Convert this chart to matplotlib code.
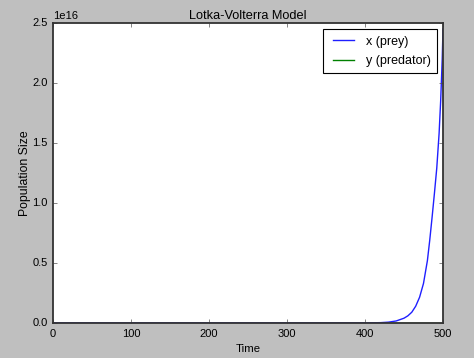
import matplotlib
matplotlib.use("Agg")
import matplotlib.pyplot as plt

plt.style.use("classic")
plt.rcParams["font.family"] = ["Liberation Sans", "DejaVu Sans"]

# Data (population in units of 1e16)
time = [0, 100, 200, 300, 400, 420, 430, 440, 450, 455, 460, 465, 470,
        475, 480, 483, 486, 489, 492, 495, 497, 499, 500]
prey = [0.0, 0.0, 0.0, 0.0, 0.0006, 0.003, 0.007, 0.017, 0.040, 0.060,
        0.090, 0.140, 0.215, 0.330, 0.520, 0.690, 0.880, 1.080, 1.290,
        1.580, 1.850, 2.200, 2.450]
predator = [0.0] * len(time)
scale = 1e16

fig = plt.figure(figsize=(4.74, 3.58), dpi=100, facecolor="#bfbfbf")
ax = fig.add_axes([53 / 474, 35 / 358, 390 / 474, 300 / 358])

ax.plot(time, [v * scale for v in prey], color="#1f1fff", lw=1, label="x (prey)")
ax.plot(time, [v * scale for v in predator], color="g", lw=1, label="y (predator)",
        zorder=1)

ax.set_xlim(0, 500)
ax.set_ylim(0, 2.5e16)
ax.set_xticks([0, 100, 200, 300, 400, 500])
ax.set_yticks([0, 0.5e16, 1.0e16, 1.5e16, 2.0e16, 2.5e16])
ax.tick_params(labelsize=8, length=3, color="#555555")
ax.yaxis.get_offset_text().set_fontsize(8)
for s in ax.spines.values():
    s.set_color("#333333")
    s.set_linewidth(1.3)
    s.set_zorder(3)

ax.set_title("Lotka-Volterra Model", fontsize=9.2, pad=3)
ax.set_xlabel("Time", fontsize=8.2, labelpad=4)
ax.set_ylabel("Population Size", fontsize=8.8, labelpad=1)

leg = ax.legend(loc="upper right", fontsize=9, frameon=True, fancybox=False,
                handlelength=2.3, handletextpad=0.6, labelspacing=0.6,
                borderpad=0.5, borderaxespad=0.5)
leg.get_frame().set_edgecolor("black")
leg.get_frame().set_linewidth(0.8)

fig.savefig("out.png", dpi=100, facecolor=fig.get_facecolor())
